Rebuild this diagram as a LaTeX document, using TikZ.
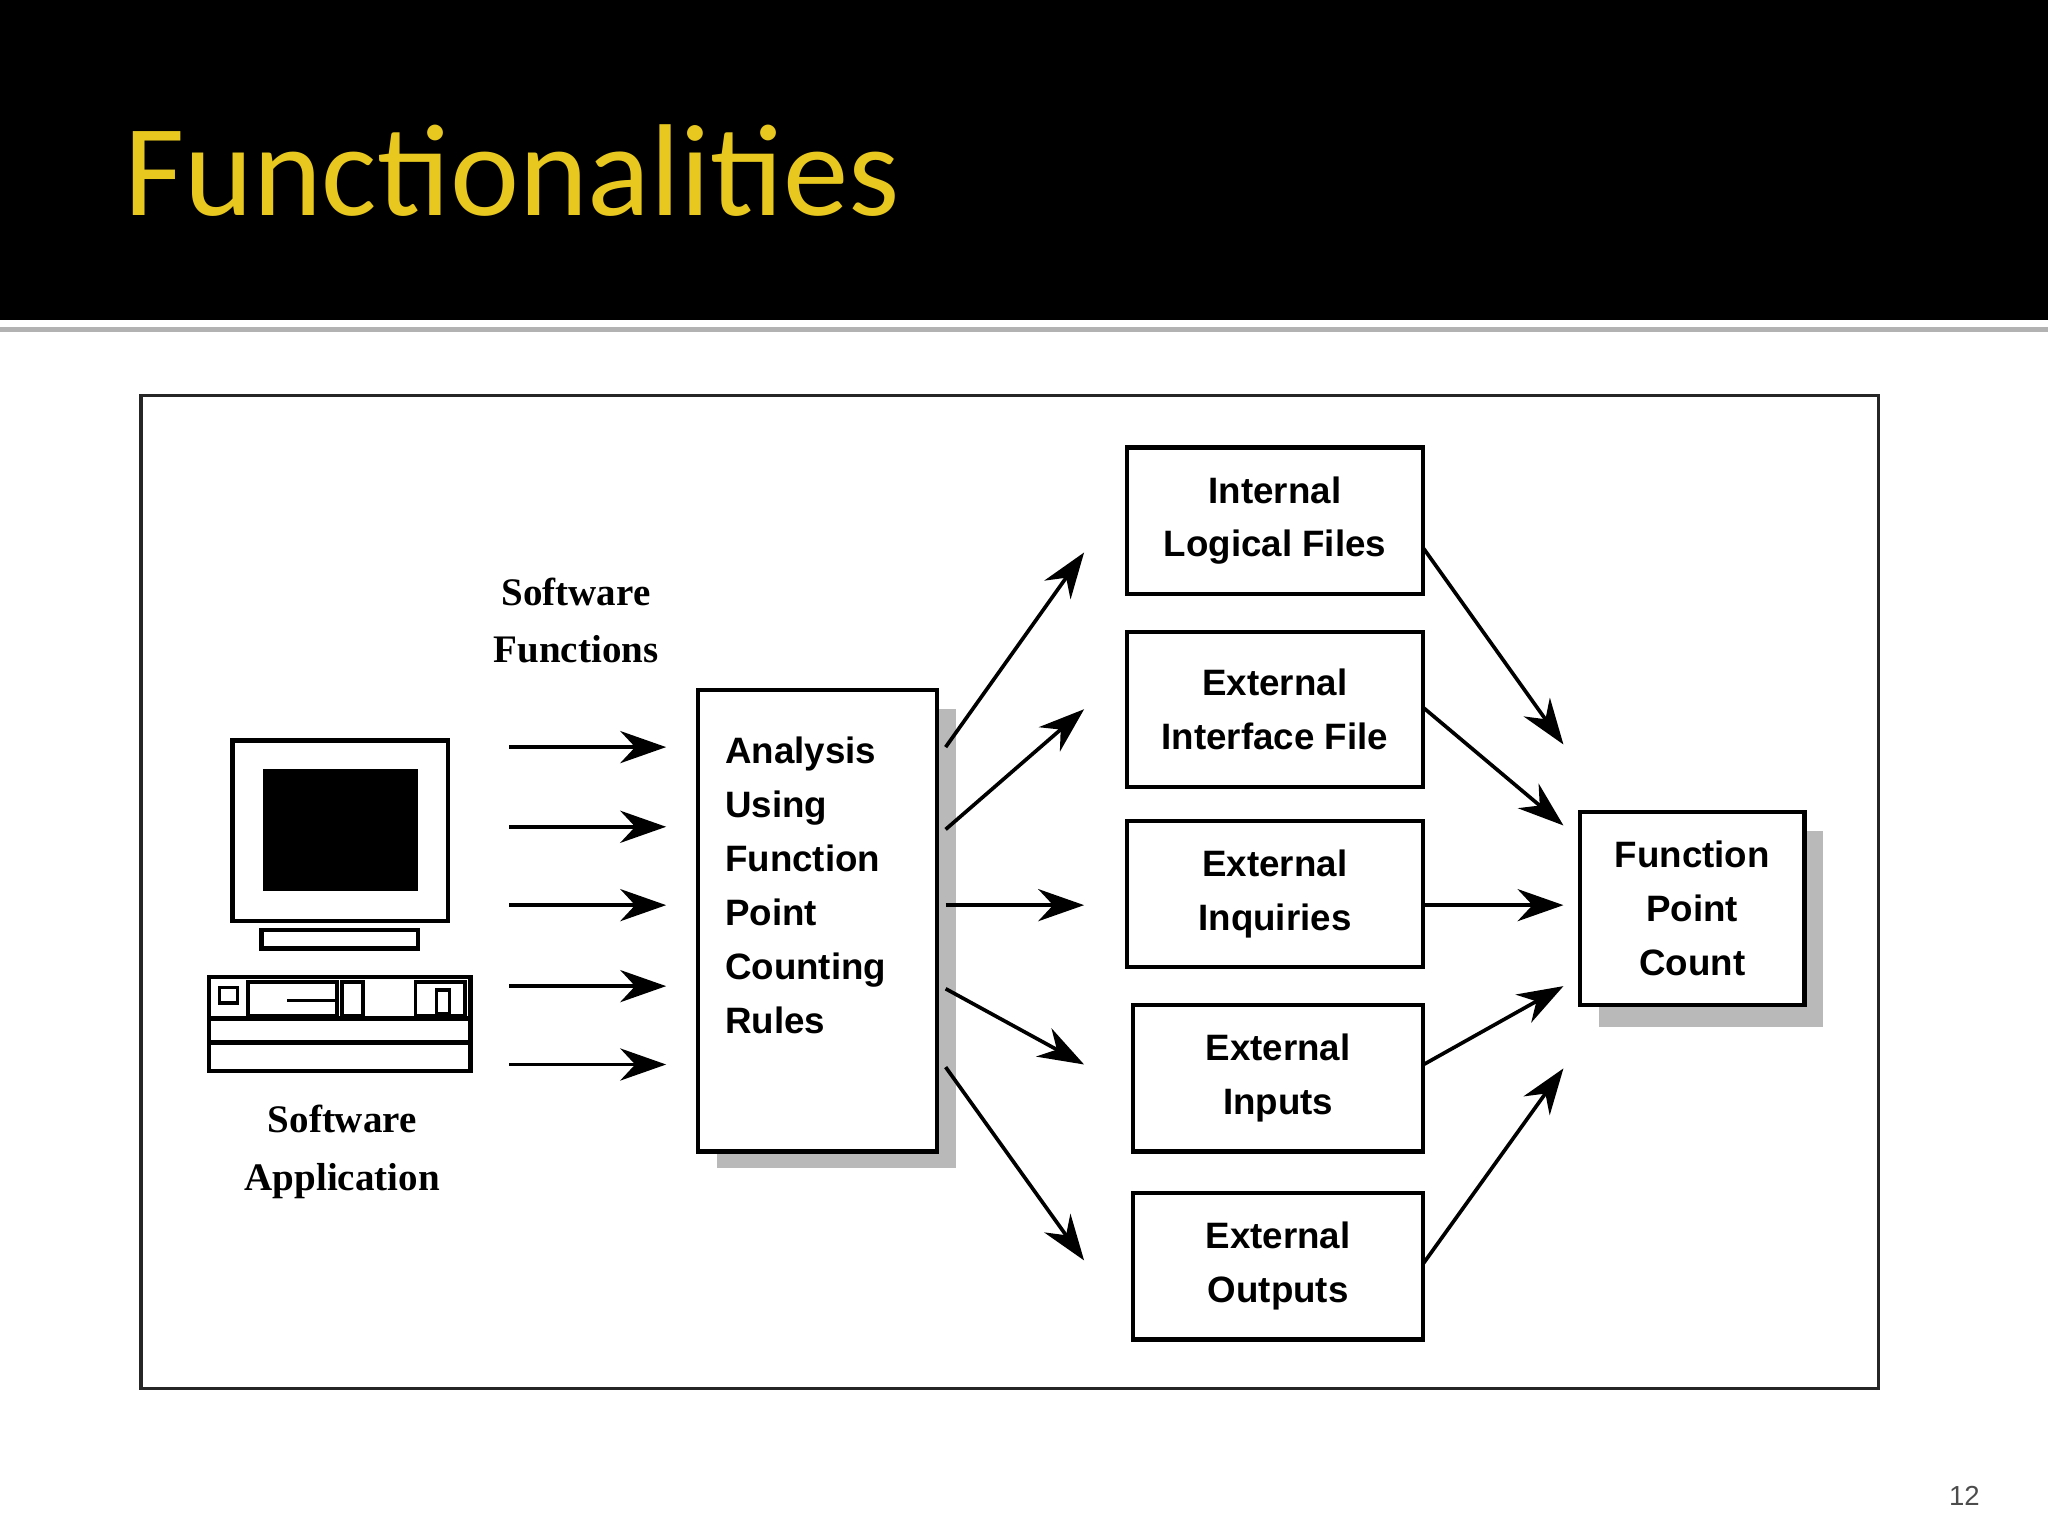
\documentclass[tikz,border=0pt]{standalone}
\usepackage{fontspec}
\setmainfont{Liberation Sans}
\newfontfamily\ttl{Carlito}
\newfontfamily\tms{Liberation Serif}
\usetikzlibrary{arrows.meta}
\definecolor{ttlc}{RGB}{232,200,30}
\begin{document}
\begin{tikzpicture}[x=0.02cm,y=-0.02cm,
  bx/.style={draw,line width=1.8pt,fill=white},
  lab/.style={font=\fontsize{16}{23.5}\selectfont\bfseries,align=center},
  slab/.style={font=\tms\fontsize{17}{25}\selectfont\bfseries,align=center},
  arr/.style={line width=1.6pt,-{Stealth[length=20pt,width=14pt]}},
  shd/.style={fill=gray!55}]
\useasboundingbox (0,0) rectangle (1568,1176);
\fill[black] (0,0) rectangle (1568,245);
\fill[gray!60] (0,250) rectangle (1568,254);
\node[anchor=base west,text=ttlc,font=\ttl\fontsize{57}{60}\selectfont,inner sep=0] (title) at (95,165) {Functionalities};
\draw[line width=1.5pt,draw=black!85] (108,303) rectangle (1438,1063);
% computer
\draw[line width=2pt] (178,567) rectangle (343,705);
\fill (201,589) rectangle (320,682);
\draw[line width=2pt] (200,712) rectangle (320,726);
\draw[line width=2pt] (160,748) rectangle (360,820);
\draw[line width=2pt] (160,780) -- (360,780);
\draw[line width=2pt] (160,798) -- (360,798);
\draw[line width=1.5pt] (190,752) rectangle (258,778) (220,766)--(258,766);
\draw[line width=1.5pt] (262,752) rectangle (278,778);
\draw[line width=1.5pt] (318,752) rectangle (356,778) (334,758) rectangle (344,776);
\draw[line width=1.5pt] (168,756) rectangle (182,768);
\node[slab] (sa) at (262,882) {Software\\Application};
\node[slab] (sf) at (441,475) {Software\\Functions};
\foreach \y [count=\i] in {572,633,693,755,815}{
  \coordinate (s\i) at (390,\y); \coordinate (e\i) at (510,\y);
  \draw[arr] (s\i) -- (e\i);}
% analysis
\fill[gray!55] (549,543) rectangle (732,894);
\node[bx,minimum width=183*0.02cm,minimum height=353*0.02cm,anchor=north west] (an) at (533,527) {};
\node[lab,align=left,anchor=north west] (ant) at (549,558) {Analysis\\Using\\Function\\Point\\Counting\\Rules};
% right boxes
\node[bx,minimum width=227*0.02cm,minimum height=112*0.02cm,anchor=north west,lab] (ilf) at (861,341) {Internal\\Logical Files};
\node[bx,minimum width=227*0.02cm,minimum height=119*0.02cm,anchor=north west,lab] (eif) at (861,482) {External\\Interface File};
\node[bx,minimum width=227*0.02cm,minimum height=112*0.02cm,anchor=north west,lab] (eq) at (861,627) {External\\Inquiries};
\node[bx,minimum width=222*0.02cm,minimum height=112*0.02cm,anchor=north west,lab] (ei) at (866,768) {External\\Inputs};
\node[bx,minimum width=222*0.02cm,minimum height=112*0.02cm,anchor=north west,lab] (eo) at (866,912) {External\\Outputs};
\fill[gray!55] (1224,636) rectangle (1396,786);
\node[bx,minimum width=172*0.02cm,minimum height=148*0.02cm,anchor=north west,lab] (fpc) at (1208,620) {Function\\Point\\Count};
% arrows
\foreach \a/\b/\c/\d in {724/572/830/423,724/635/830/543,724/693/830/693,724/757/830/815,724/817/830/965}
  \draw[arr] (\a,\b) -- (\c,\d);
\foreach \a/\b/\c/\d in {1090/420/1197/570,1090/542/1197/632,1090/693/1197/693,1090/815/1197/755,1090/967/1197/818}
  \draw[arr] (\a,\b) -- (\c,\d);
\node[font=\fontsize{12}{14}\selectfont,text=black!70] (pg) at (1504,1145) {12};
\end{tikzpicture}
\end{document}
